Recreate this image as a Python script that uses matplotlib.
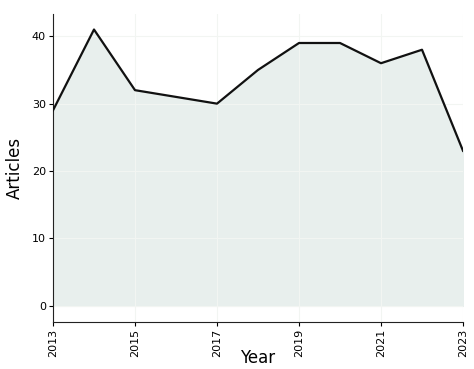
import matplotlib
matplotlib.use("Agg")
import matplotlib.pyplot as plt

years = [2013, 2014, 2015, 2016, 2017, 2018, 2019, 2020, 2021, 2022, 2023]
articles = [29, 41, 32, 31, 30, 35, 39, 39, 36, 38, 23]
x_ticks = [2013, 2015, 2017, 2019, 2021, 2023]
y_ticks = [0, 10, 20, 30, 40]

fig = plt.figure(figsize=(4.74, 3.69), dpi=100)
ax = fig.add_axes([0.1118, 0.1274, 0.865, 0.8346])

ax.fill_between(years, articles, 0, color="#e8efed", zorder=1)
ax.plot(years, articles, color="#111111", lw=1.6, zorder=3)

ax.set_xlim(2013, 2023)
ax.set_ylim(-2.4, 43.3)
ax.set_xticks(x_ticks)
ax.set_yticks(y_ticks)
ax.set_xticklabels([str(v) for v in x_ticks], rotation=90, fontsize=8)
ax.tick_params(axis="y", labelsize=8, length=3, pad=2)
ax.tick_params(axis="x", length=3, pad=2)

ax.grid(True, color="#f2f5f2", lw=0.8, zorder=2)
for s in ["top", "right"]:
    ax.spines[s].set_visible(False)
for s in ["left", "bottom"]:
    ax.spines[s].set_color("#222222")

fig.text(258 / 474, 1 - 358 / 369, "Year", fontsize=12, ha="center", va="center")
fig.text(15 / 474, 1 - 168 / 369, "Articles", fontsize=12, rotation=90,
         ha="center", va="center")

fig.savefig("out.png", dpi=100)
